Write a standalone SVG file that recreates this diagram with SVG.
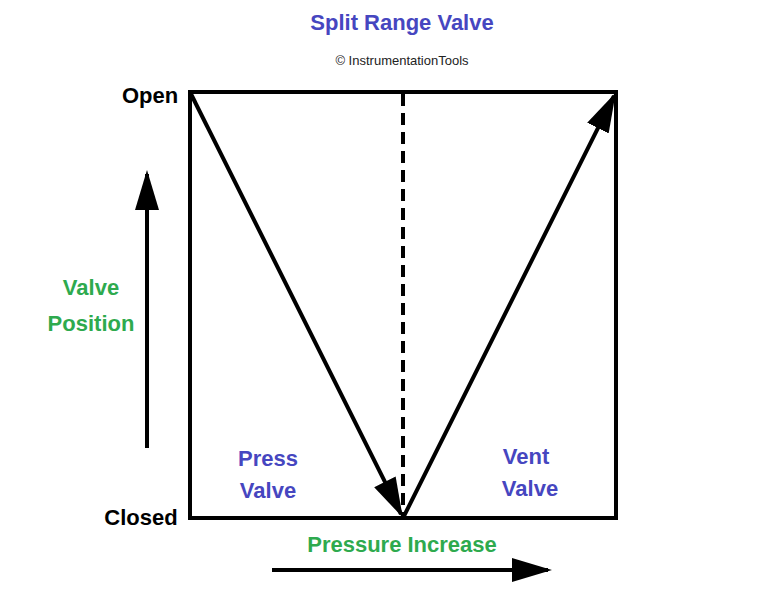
<svg xmlns="http://www.w3.org/2000/svg" width="768" height="600" viewBox="0 0 768 600">
<style>
.b{font-family:"Liberation Sans",Arial,sans-serif;font-weight:bold;text-anchor:middle}
.blue{fill:#4646c0;font-size:22px}
.green{fill:#2eaa4e;font-size:22px}
.blk{fill:#000;font-size:22px}
.ln{stroke:#000;stroke-width:4;fill:none}
</style>
<defs>
<marker id="ah" markerWidth="10" markerHeight="8" refX="9" refY="4" orient="auto" markerUnits="strokeWidth">
<path d="M0,1 L10,4 L0,7 Z" fill="#000"/>
</marker>
</defs>
<rect width="768" height="600" fill="#fff"/>
<text class="b blue" x="402" y="30">Split Range Valve</text>
<text x="402" y="65" font-family="Liberation Sans,Arial,sans-serif" font-size="13" text-anchor="middle" fill="#222">© InstrumentationTools</text>
<g id="box"><rect x="190" y="92" width="426" height="426" class="ln"/></g>
<g id="connectors">
<line x1="403" y1="94" x2="403" y2="516" class="ln" stroke-dasharray="12,7"/>
<line x1="190" y1="92" x2="401" y2="514" class="ln" stroke-width="5" marker-end="url(#ah)"/>
<line x1="403" y1="518" x2="614" y2="96" class="ln" stroke-width="5" marker-end="url(#ah)"/>
<line x1="147" y1="448" x2="147" y2="174" class="ln" stroke-width="3" marker-end="url(#ah)"/>
<line x1="272" y1="570" x2="548" y2="570" class="ln" stroke-width="3" marker-end="url(#ah)"/>
</g>
<g id="labels">
<text class="b blk" x="150" y="103">Open</text>
<text class="b blk" x="141" y="525">Closed</text>
<text class="b green" x="91" y="295">Valve</text>
<text class="b green" x="91" y="331">Position</text>
<text class="b blue" x="268" y="466">Press</text>
<text class="b blue" x="268" y="498">Valve</text>
<text class="b blue" x="526" y="464">Vent</text>
<text class="b blue" x="530" y="496">Valve</text>
<text class="b green" x="402" y="552">Pressure Increase</text>
</g>
</svg>
